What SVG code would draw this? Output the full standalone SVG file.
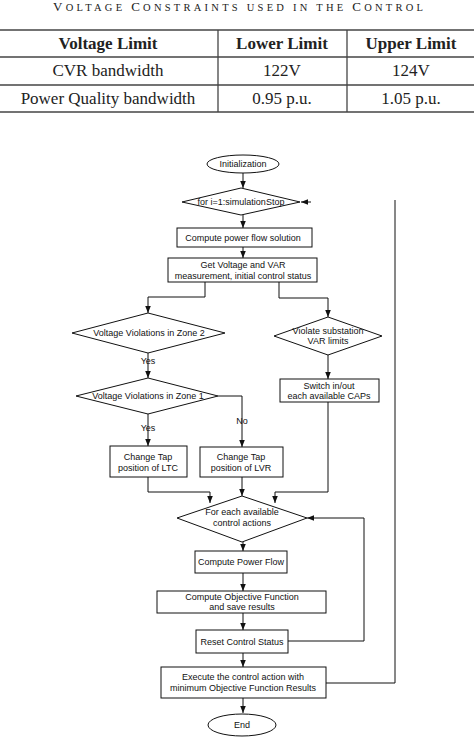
<svg xmlns="http://www.w3.org/2000/svg" width="474" height="738" viewBox="0 0 474 738">
<defs>
<marker id="ah" viewBox="0 0 10 10" refX="10" refY="5" markerWidth="7" markerHeight="7" orient="auto" markerUnits="userSpaceOnUse">
<path d="M0,1 L10,5 L0,9 z" fill="#111"/>
</marker>
<style>
.tt{font-family:"Liberation Serif","Times New Roman",serif;fill:#222}
.th{font-size:17px;font-weight:bold;text-anchor:middle}
.td{font-size:17px;text-anchor:middle}
.tl{stroke:#444;stroke-width:1.3;fill:none}
.n{fill:#fff;stroke:#111;stroke-width:1}
.f{font-family:"Liberation Sans",Arial,sans-serif;font-size:9px;fill:#111;text-anchor:middle}
.c{fill:none;stroke:#111;stroke-width:1}
.ca{fill:none;stroke:#111;stroke-width:1;marker-end:url(#ah)}
</style>
</defs>
<rect width="474" height="738" fill="#fff"/>
<g id="table">
<text class="tt" x="238" y="11" text-anchor="middle" textLength="370" lengthAdjust="spacing"><tspan font-size="13">V</tspan><tspan font-size="10.5">OLTAGE </tspan><tspan font-size="13">C</tspan><tspan font-size="10.5">ONSTRAINTS USED IN THE </tspan><tspan font-size="13">C</tspan><tspan font-size="10.5">ONTROL</tspan></text>
<line class="tl" x1="0" y1="30" x2="474" y2="30"/>
<line class="tl" x1="0" y1="57" x2="474" y2="57"/>
<line class="tl" x1="0" y1="85" x2="474" y2="85"/>
<line class="tl" x1="0" y1="112" x2="474" y2="112"/>
<line class="tl" x1="218" y1="30" x2="218" y2="112"/>
<line class="tl" x1="347" y1="30" x2="347" y2="112"/>
<text class="tt th" x="108" y="49">Voltage Limit</text>
<text class="tt th" x="282" y="49">Lower Limit</text>
<text class="tt th" x="411" y="49">Upper Limit</text>
<text class="tt td" x="108" y="76">CVR bandwidth</text>
<text class="tt td" x="282" y="76">122V</text>
<text class="tt td" x="411" y="76">124V</text>
<text class="tt td" x="108" y="104">Power Quality bandwidth</text>
<text class="tt td" x="282" y="104">0.95 p.u.</text>
<text class="tt td" x="411" y="104">1.05 p.u.</text>
</g>
<g id="connectors">
<line class="ca" x1="243" y1="173" x2="243" y2="188"/>
<line class="ca" x1="243" y1="215" x2="243" y2="228"/>
<line class="ca" x1="243" y1="247" x2="243" y2="258"/>
<polyline class="ca" points="205,282 205,297 148,297 148,313"/>
<polyline class="ca" points="279,282 279,298 328,298 328,317"/>
<line class="ca" x1="148" y1="353" x2="148" y2="378"/>
<text class="f" x="148" y="364" font-size="9.5">Yes</text>
<line class="ca" x1="328" y1="355" x2="328" y2="379"/>
<line class="ca" x1="148" y1="414" x2="148" y2="446"/>
<text class="f" x="148" y="431" font-size="9.5">Yes</text>
<polyline class="ca" points="218,396 242,396 242,447"/>
<text class="f" x="242" y="424" font-size="9.5">No</text>
<polyline class="ca" points="148,477 148,492 210,492 210,503"/>
<line class="ca" x1="242" y1="477" x2="242" y2="496"/>
<polyline class="ca" points="328,402 328,492 275,492 275,503"/>
<line class="ca" x1="243" y1="542" x2="243" y2="551"/>
<line class="ca" x1="243" y1="573" x2="243" y2="591"/>
<line class="ca" x1="243" y1="613" x2="243" y2="630"/>
<line class="ca" x1="243" y1="653" x2="243" y2="667"/>
<line class="ca" x1="243" y1="698" x2="243" y2="713"/>
<polyline class="ca" points="288,641 364,641 364,518 307,518"/>
<polyline class="c" points="326,683 395,683 395,200"/>
<line class="ca" x1="311" y1="202" x2="301" y2="202"/>
</g>
<g id="n-init">
<ellipse class="n" cx="243" cy="164" rx="36" ry="9"/>
<text class="f" x="243" y="167">Initialization</text>
</g>
<g id="n-for">
<polygon class="n" points="241,188 300,202 241,215 182,202"/>
<text class="f" x="241" y="205">for i=1:simulationStop</text>
</g>
<g id="n-cpf">
<rect class="n" x="177" y="228" width="135" height="19"/>
<text class="f" x="243" y="241">Compute power flow solution</text>
</g>
<g id="n-get">
<rect class="n" x="168" y="258" width="149" height="24"/>
<text class="f" x="243" y="268">Get Voltage and VAR</text>
<text class="f" x="243" y="279">measurement, initial control status</text>
</g>
<g id="n-z2">
<polygon class="n" points="148,313 225,333 148,353 72,333"/>
<text class="f" x="149" y="336">Voltage Violations in Zone 2</text>
</g>
<g id="n-var">
<polygon class="n" points="328,317 382,336 328,355 274,336"/>
<text class="f" x="328" y="334">Violate substation</text>
<text class="f" x="328" y="344">VAR limits</text>
</g>
<g id="n-z1">
<polygon class="n" points="148,378 218,396 148,414 76,396"/>
<text class="f" x="148" y="399">Voltage Violations in Zone 1</text>
</g>
<g id="n-cap">
<rect class="n" x="280" y="379" width="99" height="23"/>
<text class="f" x="329" y="389">Switch in/out</text>
<text class="f" x="329" y="399">each available CAPs</text>
</g>
<g id="n-ltc">
<rect class="n" x="110" y="446" width="77" height="31"/>
<text class="f" x="148" y="460">Change Tap</text>
<text class="f" x="148" y="471">position of LTC</text>
</g>
<g id="n-lvr">
<rect class="n" x="200" y="447" width="83" height="30"/>
<text class="f" x="241" y="460">Change Tap</text>
<text class="f" x="241" y="471">position of LVR</text>
</g>
<g id="n-each">
<polygon class="n" points="242,496 307,518 242,542 177,518"/>
<text class="f" x="242" y="515">For each available</text>
<text class="f" x="242" y="526">control actions</text>
</g>
<g id="n-cpf2">
<rect class="n" x="195" y="551" width="92" height="22"/>
<text class="f" x="241" y="565">Compute Power Flow</text>
</g>
<g id="n-obj">
<rect class="n" x="157" y="591" width="169" height="22"/>
<text class="f" x="242" y="600">Compute Objective Function</text>
<text class="f" x="242" y="610">and save results</text>
</g>
<g id="n-reset">
<rect class="n" x="196" y="630" width="92" height="23"/>
<text class="f" x="242" y="645">Reset Control Status</text>
</g>
<g id="n-exec">
<rect class="n" x="161" y="667" width="165" height="31"/>
<text class="f" x="243" y="680">Execute the control action with</text>
<text class="f" x="243" y="691">minimum Objective Function Results</text>
</g>
<g id="n-end">
<ellipse class="n" cx="242" cy="725" rx="34" ry="11"/>
<text class="f" x="242" y="728">End</text>
</g>
</svg>
